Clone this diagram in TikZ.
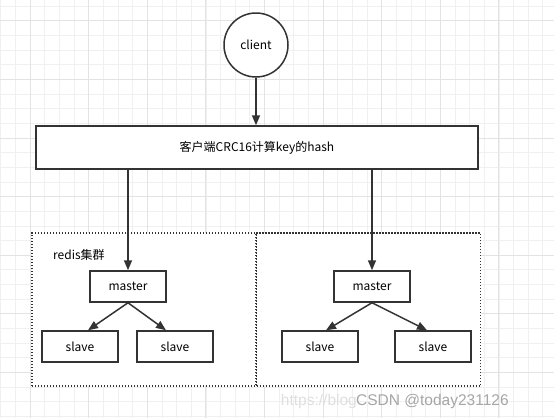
\documentclass[tikz,border=0pt]{standalone}
\usepackage{fontspec}
\setmainfont{Noto Sans CJK SC}
\newfontfamily\markfont{Liberation Sans}
\usetikzlibrary{arrows.meta, positioning}
\definecolor{ink}{HTML}{333333}
\tikzset{%
  box/.style={draw=ink, line width=1.5pt, fill=white, minimum width=76pt, minimum height=31pt,
    inner sep=0pt, font=\fontsize{12}{14}\selectfont},
  client/.style={draw=ink, line width=1.5pt, fill=white, circle, minimum size=64pt, inner sep=0pt,
    font=\fontsize{12}{14}\selectfont},
  link/.style={draw=ink, line width=1.5pt, -{Triangle[length=10pt,width=8pt]}},
  group/.style={draw=ink, line width=1.4pt, fill=white, dash pattern=on 1.4pt off 1.6pt,
    minimum width=224pt, minimum height=153pt, inner sep=0pt},
  gridline/.style={draw=gray!12, line width=0.6pt},
  majorline/.style={draw=gray!22, line width=0.7pt},
  watermark/.style={font=\markfont\fontsize{15.5}{17}\selectfont, inner sep=0pt}
}

\begin{document}
\begin{tikzpicture}[x=1pt, y=-1pt]
  \useasboundingbox[fill=white] (0,0) rectangle (554,418);
  % background grid
  \foreach \k in {0,...,37} \draw[gridline] ({0.7+14.65*\k},0) -- ++(0,418);
  \foreach \k in {0,...,28} \draw[gridline] (0,{6.05+14.65*\k}) -- ++(554,0);
  \foreach \k in {0,...,8} \draw[majorline] ({30+58.6*\k},0) -- ++(0,418);
  \foreach \k in {0,...,6} \draw[majorline] (0,{20.7+58.6*\k}) -- ++(554,0);

  % cluster groups
  \node[group] (g1) at (144,309.5) {};
  \node[group] (g2) at (368.5,309.5) {};
  \node[anchor=west, inner sep=0pt, font=\fontsize{12}{14}\selectfont] (lbl) at (53,255) {redis集群};

  \node[client] (cli) at (256,45) {client};
  \node[box, minimum width=442pt, minimum height=43pt] (hash) at (257,147.5) {客户端CRC16计算key的hash};

  \node[box] (m1) at (128,286.5) {master};
  \node[box] (m2) at (372,286.5) {master};
  \node[box] (s1) at (80,346.5) {slave};
  \node[box] (s2) at (175,346.5) {slave};
  \node[box] (s3) at (320,346.5) {slave};
  \node[box] (s4) at (433,346.5) {slave};

  \draw[link] (cli) -- (hash.north -| cli);
  \draw[link] (hash.south -| m1) -- (m1.north);
  \draw[link] (hash.south -| m2) -- (m2.north);
  \draw[link] (m1.south) -- ([xshift=8pt]s1.north);
  \draw[link] (m1.south) -- ([xshift=-9pt]s2.north);
  \draw[link] (m2.south) -- ([xshift=6pt]s3.north);
  \draw[link] (m2.south) -- ([xshift=-6pt]s4.north);

  % watermark
  \node[watermark, text=gray!25, anchor=east] (url) at (357,401) {https://blog};
  \node[watermark, text=gray!70, anchor=west] (csdn) at (356,401) {CSDN @today231126};
\end{tikzpicture}
\end{document}
